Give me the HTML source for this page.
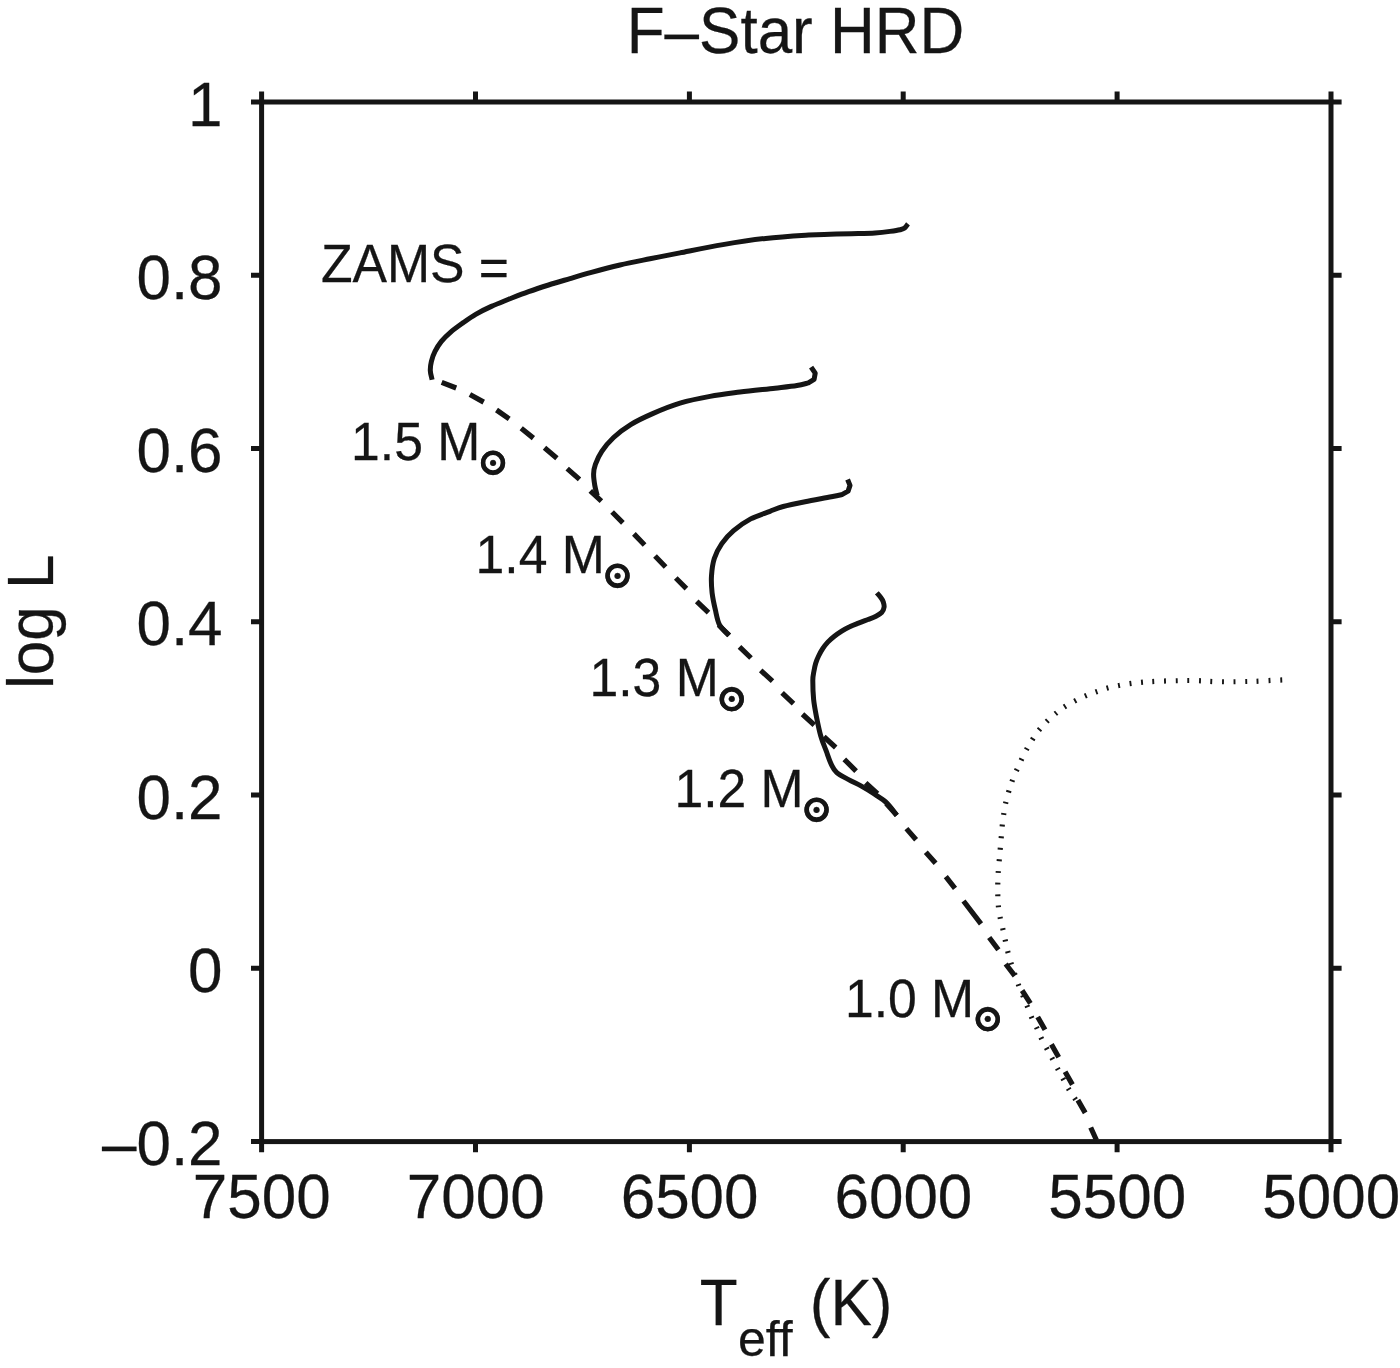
<!DOCTYPE html>
<html lang="en"><head><meta charset="utf-8"><title>F-Star HRD</title>
<style>
html,body{margin:0;padding:0;background:#fff;}
body{width:1400px;height:1368px;overflow:hidden;}
svg{display:block;}
text{font-family:"Liberation Sans","DejaVu Sans",sans-serif;fill:#151515;stroke:#151515;stroke-width:0.25px;}
.t{font-size:62.0px;}
.l{font-size:51.7px;}
.ax{stroke:#151515;stroke-width:5.0;fill:none;stroke-linecap:butt;}
.trk{stroke:#151515;stroke-width:5.0;fill:none;stroke-linecap:butt;stroke-linejoin:round;}
.zams{stroke:#151515;stroke-width:5.2;fill:none;stroke-linecap:butt;}
.dot{stroke:#151515;stroke-width:5.2;fill:none;stroke-linecap:butt;}
text.sun{font-family:"DejaVu Sans",sans-serif;font-size:33.0px;}
.ring{fill:none;stroke:#151515;stroke-width:4.5;}
</style></head><body>
<svg width="1400" height="1368" viewBox="0 0 1400 1368">
<rect width="1400" height="1368" fill="#fff"/>
<text class="t" transform="translate(795.5 52.9) scale(1 1.040)" text-anchor="middle">F–Star HRD</text>
<rect class="ax" x="261.6" y="102.0" width="1069.4" height="1039.6"/>
<path class="ax" d="M261.6 102.0V91.4M261.6 1141.6V1152.2M475.5 102.0V91.4M475.5 1141.6V1152.2M689.4 102.0V91.4M689.4 1141.6V1152.2M903.2 102.0V91.4M903.2 1141.6V1152.2M1117.1 102.0V91.4M1117.1 1141.6V1152.2M1331.0 102.0V91.4M1331.0 1141.6V1152.2M261.6 102.0H251.0M1331.0 102.0H1341.6M261.6 275.3H251.0M1331.0 275.3H1341.6M261.6 448.5H251.0M1331.0 448.5H1341.6M261.6 621.8H251.0M1331.0 621.8H1341.6M261.6 795.1H251.0M1331.0 795.1H1341.6M261.6 968.3H251.0M1331.0 968.3H1341.6M261.6 1141.6H251.0M1331.0 1141.6H1341.6"/>
<text class="t" transform="translate(261.8 1217.7) scale(1 1.020)" text-anchor="middle">7500</text>
<text class="t" transform="translate(475.7 1217.7) scale(1 1.020)" text-anchor="middle">7000</text>
<text class="t" transform="translate(689.6 1217.7) scale(1 1.020)" text-anchor="middle">6500</text>
<text class="t" transform="translate(903.4 1217.7) scale(1 1.020)" text-anchor="middle">6000</text>
<text class="t" transform="translate(1117.3 1217.7) scale(1 1.020)" text-anchor="middle">5500</text>
<text class="t" transform="translate(1331.2 1217.7) scale(1 1.020)" text-anchor="middle">5000</text>
<text class="t" transform="translate(222.6 125.6) scale(1 1.020)" text-anchor="end">1</text>
<text class="t" transform="translate(222.6 298.9) scale(1 1.020)" text-anchor="end">0.8</text>
<text class="t" transform="translate(222.6 472.1) scale(1 1.020)" text-anchor="end">0.6</text>
<text class="t" transform="translate(222.6 645.4) scale(1 1.020)" text-anchor="end">0.4</text>
<text class="t" transform="translate(222.6 818.7) scale(1 1.020)" text-anchor="end">0.2</text>
<text class="t" transform="translate(222.6 991.9) scale(1 1.020)" text-anchor="end">0</text>
<text class="t" transform="translate(222.6 1165.2) scale(1 1.020)" text-anchor="end">–0.2</text>
<text class="t" transform="translate(52.9 621.7) rotate(-90) scale(1 1.040)" text-anchor="middle">log L</text>
<text class="t" transform="translate(699.8 1324.6) scale(1 1.040)">T</text>
<text class="t" transform="translate(737.9 1356.0) scale(1 1.000)" style="font-size:50.0px">eff</text>
<text class="t" transform="translate(792.6 1324.6) scale(1 1.040)" xml:space="preserve"> (K)</text>
<path class="zams" d="M441.7 382.3L456.2 388.0M469.9 394.5L483.7 402.1M496.5 410.0L509.2 418.9M521.2 428.3L533.4 438.1M544.5 447.7L556.9 458.3M567.2 468.6L579.5 479.4M590.3 490.9L601.4 501.2M612.1 512.0L622.9 522.9M633.9 533.9L644.6 545.0M655.0 556.0L665.6 567.0M675.8 578.0L686.4 588.6M696.7 601.4L708.5 612.6M718.6 625.0L729.3 635.3M739.5 646.8L751.0 658.0M760.7 670.4L772.5 681.1M782.1 692.9L793.5 703.6M802.5 714.3L814.3 725.0M823.9 736.8L835.7 747.5M844.3 759.3L856.1 771.1M865.7 782.9L877.5 793.6M886.1 803.2L896.8 815.4M906.4 828.6L916.1 839.7M925.8 852.2L935.6 863.3M945.8 876.7L955.0 888.3M963.5 901.0L981.0 923.8M989.2 937.5L998.4 949.7M1005.7 964.0L1014.8 975.8M1022.1 990.5L1030.4 1003.3M1037.7 1017.0L1045.0 1029.8M1051.4 1044.4L1058.7 1057.2M1065.1 1071.8L1072.4 1084.6M1077.9 1100.1L1085.2 1112.9M1090.7 1127.5L1096.4 1140.0"/>
<path class="dot" d="M1282.20 679.96L1280.30 680.04M1270.45 680.45L1268.55 680.55M1258.45 681.21L1256.55 681.29M1247.20 681.48L1245.30 681.52M1235.45 681.74L1233.55 681.76M1223.95 681.76L1222.05 681.74M1212.20 681.54L1210.30 681.46M1200.95 680.79L1199.05 680.71M1189.20 680.50L1187.30 680.50M1177.70 680.73L1175.80 680.77M1165.95 680.97L1164.05 681.03M1154.20 681.45L1152.30 681.55M1142.95 682.17L1141.05 682.33M1131.44 683.37L1129.56 683.63M1119.93 685.32L1118.07 685.68M1108.42 687.75L1106.58 688.25M1097.39 691.43L1095.61 692.07M1086.62 695.38L1084.88 696.12M1076.09 700.31L1074.41 701.19M1065.80 705.98L1064.20 707.02M1056.74 712.65L1055.26 713.85M1047.93 720.33L1046.57 721.67M1040.10 728.76L1038.90 730.24M1033.27 738.20L1032.23 739.80M1027.21 748.17L1026.29 749.83M1021.91 758.64L1021.09 760.36M1017.13 769.13L1016.37 770.87M1012.58 779.86L1011.92 781.64M1009.02 790.59L1008.48 792.41M1005.96 801.82L1005.54 803.68M1003.89 813.06L1003.61 814.94M1002.35 824.56L1002.15 826.44M1001.33 836.30L1001.17 838.20M1000.33 847.80L1000.17 849.70M999.33 859.30L999.17 861.20M998.31 871.05L998.19 872.95M997.82 882.65L997.78 884.55M997.78 894.35L997.82 896.25M998.30 905.46L998.50 907.34M1000.02 916.97L1000.38 918.83M1002.69 928.27L1003.11 930.13M1005.10 939.67L1005.50 941.53M1007.66 951.18L1008.14 953.02M1010.92 962.69L1011.48 964.51M1014.49 973.40L1015.11 975.20M1018.16 984.11L1018.84 985.89M1022.64 995.12L1023.36 996.88M1026.94 1005.52L1027.66 1007.28M1031.22 1016.43L1031.98 1018.17M1036.40 1027.04L1037.20 1028.76M1040.89 1037.44L1041.71 1039.16M1046.35 1047.76L1047.25 1049.44M1051.85 1057.76L1052.75 1059.44M1057.35 1068.16L1058.25 1069.84M1062.85 1078.26L1063.75 1079.94M1068.21 1088.29L1069.19 1089.91M1074.58 1098.01L1075.62 1099.59"/>
<path class="trk" d="M432.1 379.7C431.8 378.2 430.4 373.8 430.3 370.7C430.2 367.6 430.6 364.6 431.4 361.4C432.2 358.2 433.3 354.7 435.0 351.4C436.7 348.1 438.8 344.6 441.4 341.4C444.0 338.2 447.1 335.2 450.7 332.1C454.3 329.0 458.7 325.9 462.9 322.9C467.1 319.9 470.9 317.1 475.7 314.3C480.4 311.6 485.9 308.9 491.4 306.4C496.9 303.9 502.4 301.8 508.6 299.3C514.8 296.9 521.9 294.1 528.6 291.7C535.3 289.3 541.7 287.2 548.6 285.0C555.5 282.8 562.9 280.7 570.0 278.6C577.1 276.5 583.1 274.7 591.4 272.4C599.7 270.1 610.2 267.3 620.0 265.0C629.8 262.7 640.0 260.8 650.0 258.8C660.0 256.8 667.9 255.3 680.0 252.9C692.1 250.5 708.6 247.0 722.9 244.6C737.2 242.2 751.4 240.0 765.7 238.4C780.0 236.8 797.9 235.7 808.6 235.0C819.3 234.3 822.9 234.5 830.0 234.3C837.1 234.1 843.9 233.9 851.4 233.7C858.9 233.5 868.6 233.4 875.0 233.0C881.4 232.6 885.8 232.0 890.0 231.4C894.2 230.8 897.6 230.3 900.0 229.7C902.4 229.1 903.3 229.0 904.6 228.0C905.9 227.0 907.4 224.5 908.0 223.8"/>
<path class="trk" d="M597.2 495.6C596.8 493.9 595.4 489.1 594.8 485.5C594.2 481.9 593.5 477.5 593.6 474.0C593.7 470.5 594.0 468.1 595.4 464.3C596.8 460.5 598.8 455.9 601.8 451.4C604.8 446.9 608.8 442.0 613.6 437.5C618.4 433.0 624.3 428.5 630.7 424.6C637.1 420.7 643.9 417.5 652.1 413.9C660.3 410.3 670.4 406.1 680.0 403.2C689.6 400.3 700.0 398.2 710.0 396.4C720.0 394.5 729.1 393.5 740.0 392.1C750.9 390.7 765.6 389.3 775.1 388.2C784.6 387.1 791.5 386.4 797.0 385.5C802.5 384.6 806.5 383.3 808.4 382.9L814.1 379.4L815.2 373.2L811.1 367.1"/>
<path class="trk" d="M728.9 635.3C727.4 633.6 721.9 629.2 719.6 625.0C717.4 620.8 716.6 615.4 715.4 610.0C714.1 604.6 712.8 598.6 712.1 592.9C711.5 587.2 711.1 581.4 711.5 575.7C711.9 570.0 712.6 564.0 714.3 558.6C716.0 553.2 718.6 548.2 721.8 543.6C725.0 539.0 728.8 534.8 733.6 530.7C738.4 526.6 744.6 522.1 750.7 518.9C756.8 515.7 764.6 513.4 770.0 511.3C775.4 509.2 777.4 508.1 783.2 506.5C789.1 504.9 797.1 503.3 805.1 501.7C813.1 500.1 825.3 498.0 831.4 496.8C837.5 495.6 840.1 495.0 841.9 494.6L848.1 491.1L850.0 485.4L847.6 479.5"/>
<path class="trk" d="M876.8 592.8C877.5 593.6 879.7 596.0 880.8 597.5C881.9 599.0 882.8 600.3 883.3 601.9C883.8 603.5 884.3 605.3 884.1 607.0C883.9 608.7 883.2 610.7 881.9 612.2C880.5 613.7 878.3 615.0 876.0 616.2C873.7 617.4 870.9 618.4 868.0 619.5C865.1 620.6 861.5 621.9 858.5 623.1C855.5 624.3 852.5 625.4 849.7 626.8C846.9 628.1 844.2 629.6 841.7 631.2C839.2 632.8 836.7 634.5 834.4 636.3C832.1 638.1 829.8 640.0 827.8 642.1C825.8 644.2 824.2 646.4 822.7 648.7C821.2 651.0 819.8 653.6 818.6 656.0C817.4 658.4 816.5 660.7 815.7 663.3C814.9 665.9 814.4 668.5 813.9 671.4C813.4 674.3 812.8 675.9 812.8 680.5C812.8 685.1 813.0 693.3 813.6 699.3C814.2 705.3 815.2 710.3 816.4 716.4C817.6 722.5 819.1 730.0 820.7 735.7C822.3 741.4 824.3 745.9 826.1 750.7C827.9 755.5 829.6 761.0 831.4 764.6C833.2 768.2 833.9 770.1 836.8 772.6C839.7 775.1 844.5 777.4 848.6 779.6C852.7 781.9 857.1 783.7 861.4 786.1C865.7 788.5 870.0 791.1 874.3 794.0C878.6 796.9 883.4 799.6 887.1 803.2C890.9 806.8 895.2 813.4 896.8 815.4"/>
<text class="l" transform="translate(320.9 281.7) scale(1 1.040)">ZAMS <tspan dy="4.6">=</tspan></text>
<text class="l" transform="translate(351.1 459.5) scale(1 1.040)">1.5 M</text>
<text class="sun" x="478.21" y="474.75">☉</text>
<circle class="ring" cx="493.0" cy="462.7" r="9.85"/>
<text class="l" transform="translate(475.6 572.6) scale(1 1.040)">1.4 M</text>
<text class="sun" x="602.71" y="587.65">☉</text>
<circle class="ring" cx="617.5" cy="575.6" r="9.85"/>
<text class="l" transform="translate(589.5 696.1) scale(1 1.040)">1.3 M</text>
<text class="sun" x="716.91" y="711.35">☉</text>
<circle class="ring" cx="731.7" cy="699.3" r="9.85"/>
<text class="l" transform="translate(674.4 806.7) scale(1 1.040)">1.2 M</text>
<text class="sun" x="801.81" y="821.65">☉</text>
<circle class="ring" cx="816.6" cy="809.6" r="9.85"/>
<text class="l" transform="translate(844.9 1016.5) scale(1 1.040)">1.0 M</text>
<text class="sun" x="973.01" y="1031.35">☉</text>
<circle class="ring" cx="987.8" cy="1019.3" r="9.85"/>
</svg></body></html>
